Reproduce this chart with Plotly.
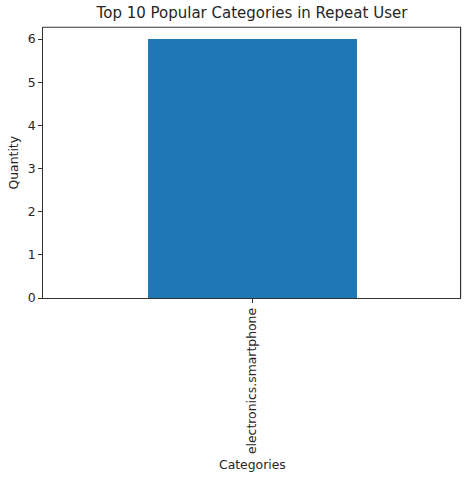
import plotly.graph_objects as go

categories = ["electronics.smartphone"]
quantity = [6]
y_ticks = [0, 1, 2, 3, 4, 5, 6]

fig = go.Figure()
fig.add_trace(go.Bar(
    x=categories,
    y=quantity,
    width=0.5,
    marker=dict(color="#1f77b4", line=dict(width=0)),
))

fig.update_layout(
    width=468,
    height=478,
    margin=dict(l=43, r=7, t=27, b=180, autoexpand=False),
    paper_bgcolor="white",
    plot_bgcolor="white",
    font=dict(family="DejaVu Sans", size=12.4, color="#262626"),
    title=dict(text="Top 10 Popular Categories in Repeat User",
               x=0.5, xref="paper", xanchor="center",
               y=1 - 13 / 478, yref="container", yanchor="middle",
               font=dict(size=15)),
    showlegend=False,
    bargap=0,
)

fig.update_xaxes(
    range=[-0.5, 0.5],
    tickangle=-90,
    ticks="outside", ticklen=4, tickcolor="#333",
    showline=True, linecolor="#333", linewidth=1,
    showgrid=False, automargin=False,
)
fig.update_yaxes(
    range=[0, 6.28],
    tickvals=y_ticks,
    ticks="outside", ticklen=4, tickcolor="#333",
    showline=True, linecolor="#333", linewidth=1,
    showgrid=False, zeroline=False, automargin=False,
)

# frame around the plot area, top and right edges drawn explicitly
fig.add_shape(type="line", xref="paper", yref="paper", x0=0, y0=0.999, x1=1, y1=0.999,
              line=dict(color="#333", width=1.2), layer="above")
fig.add_shape(type="line", xref="paper", yref="paper", x0=0.999, y0=0, x1=0.999, y1=1,
              line=dict(color="#333", width=1.2), layer="above")

# axis titles
fig.add_annotation(text="Categories", xref="paper", yref="paper",
                   x=0.5, y=-166 / 271, xanchor="center", yanchor="middle",
                   showarrow=False, font=dict(size=12.4))
fig.add_annotation(text="Quantity", xref="paper", yref="paper",
                   x=-30 / 418, y=0.5, xanchor="center", yanchor="middle",
                   textangle=-90, showarrow=False, font=dict(size=12.4))

# drop the browser's default body margin so the figure sits at the page corner
fig.write_html("out.html", config={"displayModeBar": False},
               post_script="document.body.style.margin='0';")
